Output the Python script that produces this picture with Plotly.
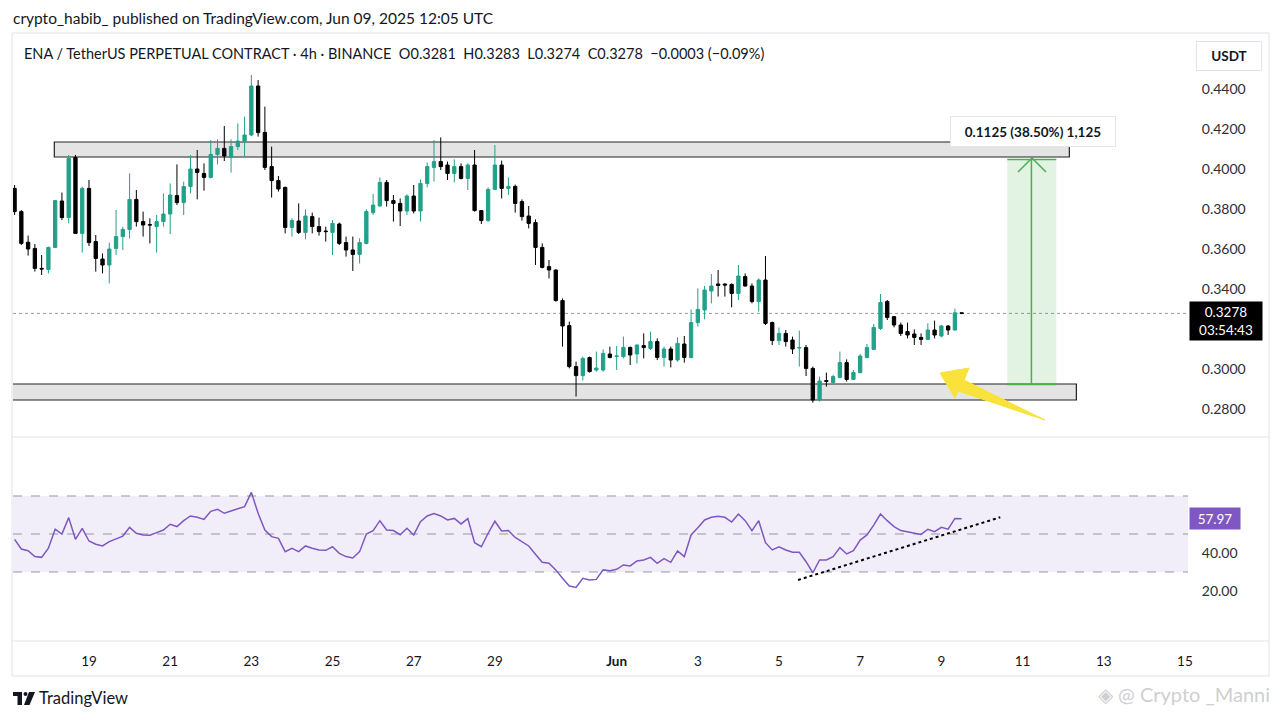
import pandas as pd
import plotly.graph_objects as go

# ENA / USDT perpetual, 4h candles (Binance), May 17 04:00 -> Jun 9 12:00 UTC
times = pd.date_range("2025-05-17 04:00", periods=141, freq="4h")

opens = [
    0.3903, 0.3787, 0.3634, 0.3603, 0.3503, 0.3498, 0.3608, 0.3840, 0.3757, 0.4058,
    0.3678, 0.3903, 0.3637, 0.3550, 0.3520, 0.3603, 0.3662, 0.3698, 0.3848, 0.3737,
    0.3722, 0.3712, 0.3737, 0.3775, 0.3867, 0.3832, 0.3912, 0.4000, 0.3978, 0.3958,
    0.4073, 0.4103, 0.4058, 0.4112, 0.4140, 0.4170, 0.4415, 0.4183, 0.4012, 0.3942,
    0.3908, 0.3708, 0.3740, 0.3683, 0.3762, 0.3712, 0.3690, 0.3683, 0.3725, 0.3632,
    0.3595, 0.3573, 0.3628, 0.3782, 0.3815, 0.3933, 0.3842, 0.3828, 0.3790, 0.3865,
    0.3790, 0.3928, 0.4008, 0.4037, 0.4020, 0.3978, 0.4012, 0.3953, 0.4020, 0.3792,
    0.3742, 0.3898, 0.4020, 0.3903, 0.3913, 0.3837, 0.3765, 0.3732, 0.3608, 0.3512,
    0.3495, 0.3342, 0.3217, 0.3012, 0.2967, 0.3057, 0.2995, 0.2995, 0.3075, 0.3063,
    0.3062, 0.3108, 0.3075, 0.3117, 0.3103, 0.3137, 0.3058, 0.3100, 0.3045, 0.3125,
    0.3058, 0.3232, 0.3295, 0.3390, 0.3425, 0.3425, 0.3423, 0.3378, 0.3462, 0.3415,
    0.3337, 0.3445, 0.3232, 0.3142, 0.3178, 0.3145, 0.3105, 0.3107, 0.3003, 0.2845,
    0.2942, 0.2932, 0.2958, 0.3032, 0.2948, 0.2982, 0.3058, 0.3098, 0.3203, 0.3337,
    0.3262, 0.3220, 0.3187, 0.3175, 0.3158, 0.3148, 0.3195, 0.3165, 0.3215, 0.3195,
    0.3281,
]
highs = [
    0.3920, 0.3795, 0.3667, 0.3625, 0.3570, 0.3612, 0.3845, 0.3882, 0.4070, 0.4070,
    0.3912, 0.3945, 0.3670, 0.3578, 0.3632, 0.3795, 0.3712, 0.3978, 0.3895, 0.3787,
    0.3753, 0.3770, 0.3878, 0.3928, 0.4023, 0.3937, 0.4070, 0.4095, 0.4028, 0.4145,
    0.4148, 0.4215, 0.4148, 0.4228, 0.4262, 0.4470, 0.4445, 0.4312, 0.4112, 0.3965,
    0.3912, 0.3753, 0.3828, 0.3798, 0.3782, 0.3757, 0.3712, 0.3745, 0.3732, 0.3662,
    0.3662, 0.3653, 0.3798, 0.3875, 0.3958, 0.3945, 0.3870, 0.3853, 0.3873, 0.3920,
    0.3948, 0.4032, 0.4145, 0.4158, 0.4037, 0.4048, 0.4028, 0.4028, 0.4095, 0.3795,
    0.3908, 0.4120, 0.4042, 0.3958, 0.3922, 0.3848, 0.3815, 0.3748, 0.3628, 0.3545,
    0.3498, 0.3353, 0.3237, 0.3037, 0.3062, 0.3062, 0.3087, 0.3098, 0.3112, 0.3115,
    0.3162, 0.3112, 0.3123, 0.3178, 0.3187, 0.3153, 0.3112, 0.3112, 0.3158, 0.3165,
    0.3298, 0.3403, 0.3415, 0.3475, 0.3495, 0.3428, 0.3428, 0.3520, 0.3478, 0.3428,
    0.3453, 0.3565, 0.3237, 0.3208, 0.3195, 0.3162, 0.3192, 0.3120, 0.3012, 0.2962,
    0.2982, 0.2970, 0.3087, 0.3048, 0.2995, 0.3075, 0.3125, 0.3225, 0.3375, 0.3345,
    0.3265, 0.3232, 0.3232, 0.3198, 0.3178, 0.3228, 0.3242, 0.3220, 0.3220, 0.3302,
    0.3283,
]
lows = [
    0.3770, 0.3620, 0.3567, 0.3487, 0.3470, 0.3478, 0.3605, 0.3745, 0.3728, 0.3678,
    0.3582, 0.3615, 0.3487, 0.3478, 0.3428, 0.3570, 0.3595, 0.3653, 0.3712, 0.3662,
    0.3628, 0.3582, 0.3712, 0.3675, 0.3820, 0.3770, 0.3878, 0.3848, 0.3892, 0.3953,
    0.4023, 0.4040, 0.3982, 0.4095, 0.4065, 0.4165, 0.4162, 0.3995, 0.3857, 0.3887,
    0.3678, 0.3662, 0.3675, 0.3648, 0.3678, 0.3667, 0.3637, 0.3570, 0.3620, 0.3562,
    0.3490, 0.3528, 0.3623, 0.3770, 0.3812, 0.3812, 0.3737, 0.3715, 0.3770, 0.3778,
    0.3737, 0.3908, 0.3937, 0.3995, 0.3945, 0.3933, 0.3948, 0.3895, 0.3787, 0.3725,
    0.3737, 0.3895, 0.3853, 0.3870, 0.3782, 0.3742, 0.3703, 0.3520, 0.3503, 0.3453,
    0.3337, 0.3112, 0.3003, 0.2862, 0.2942, 0.2982, 0.2987, 0.2987, 0.3053, 0.2995,
    0.3053, 0.3020, 0.3028, 0.3053, 0.3095, 0.3045, 0.3012, 0.3008, 0.3037, 0.3032,
    0.3053, 0.3212, 0.3248, 0.3328, 0.3362, 0.3362, 0.3308, 0.3345, 0.3412, 0.3328,
    0.3287, 0.3220, 0.3120, 0.3120, 0.3112, 0.3075, 0.3012, 0.2965, 0.2832, 0.2837,
    0.2912, 0.2928, 0.2953, 0.2937, 0.2945, 0.2978, 0.3053, 0.3095, 0.3195, 0.3245,
    0.3208, 0.3165, 0.3153, 0.3120, 0.3120, 0.3145, 0.3153, 0.3158, 0.3170, 0.3192,
    0.3274,
]
closes = [
    0.3787, 0.3628, 0.3600, 0.3503, 0.3500, 0.3608, 0.3842, 0.3757, 0.4053, 0.3678,
    0.3903, 0.3632, 0.3553, 0.3520, 0.3600, 0.3662, 0.3698, 0.3848, 0.3737, 0.3720,
    0.3720, 0.3737, 0.3775, 0.3870, 0.3832, 0.3912, 0.4000, 0.3983, 0.3958, 0.4073,
    0.4103, 0.4065, 0.4112, 0.4140, 0.4170, 0.4415, 0.4182, 0.4008, 0.3942, 0.3900,
    0.3708, 0.3742, 0.3683, 0.3765, 0.3712, 0.3687, 0.3687, 0.3728, 0.3628, 0.3595,
    0.3573, 0.3632, 0.3787, 0.3820, 0.3933, 0.3842, 0.3828, 0.3790, 0.3865, 0.3790,
    0.3928, 0.4012, 0.4037, 0.4012, 0.3978, 0.4012, 0.3953, 0.4020, 0.3792, 0.3742,
    0.3898, 0.4020, 0.3903, 0.3913, 0.3828, 0.3762, 0.3728, 0.3608, 0.3508, 0.3495,
    0.3342, 0.3215, 0.3012, 0.2967, 0.3053, 0.2987, 0.3005, 0.3078, 0.3058, 0.3065,
    0.3108, 0.3070, 0.3120, 0.3107, 0.3137, 0.3058, 0.3100, 0.3045, 0.3128, 0.3058,
    0.3232, 0.3298, 0.3395, 0.3415, 0.3418, 0.3420, 0.3378, 0.3465, 0.3415, 0.3337,
    0.3445, 0.3228, 0.3142, 0.3178, 0.3137, 0.3100, 0.3107, 0.3003, 0.2845, 0.2940,
    0.2938, 0.2962, 0.3032, 0.2948, 0.2982, 0.3065, 0.3107, 0.3208, 0.3332, 0.3258,
    0.3220, 0.3178, 0.3170, 0.3158, 0.3148, 0.3195, 0.3170, 0.3215, 0.3195, 0.3281,
    0.3278,
]
rsi = [
    47.2, 42.1, 41.2, 38.1, 37.7, 42.5, 52.5, 50.0, 58.6, 47.2,
    53.0, 46.3, 44.6, 43.7, 46.0, 47.5, 48.9, 53.5, 50.4, 49.5,
    49.3, 50.7, 52.1, 55.1, 53.9, 57.0, 59.5, 58.8, 57.7, 61.9,
    63.0, 60.9, 62.3, 63.3, 64.4, 71.9, 60.9, 52.1, 48.6, 47.7,
    40.7, 42.5, 40.7, 43.7, 42.5, 41.6, 41.4, 43.3, 39.8, 38.1,
    37.4, 40.7, 50.0, 51.8, 57.0, 52.1, 51.8, 49.6, 53.0, 49.5,
    56.5, 59.5, 60.7, 59.5, 57.4, 58.2, 55.3, 58.1, 45.4, 43.3,
    50.4, 56.7, 51.6, 51.8, 48.2, 46.0, 43.7, 39.3, 35.1, 34.6,
    31.1, 26.7, 22.6, 21.9, 26.7, 25.8, 26.1, 31.1, 30.7, 31.4,
    33.7, 33.2, 35.8, 36.3, 37.7, 34.6, 37.0, 35.1, 41.1, 38.1,
    49.5, 53.3, 57.4, 58.8, 59.3, 58.8, 56.3, 60.5, 57.0, 51.8,
    57.0, 45.4, 41.6, 43.3, 41.6, 40.4, 40.4, 35.4, 29.6, 36.3,
    36.3, 38.1, 42.8, 39.5, 41.2, 46.8, 49.5, 54.7, 60.5, 57.0,
    53.9, 51.8, 51.2, 50.4, 49.8, 52.5, 51.2, 53.5, 52.5, 58.2,
    57.97,
]

last_price = 0.3278
price_ticks = [0.44, 0.42, 0.40, 0.38, 0.36, 0.34, 0.30, 0.28]
rsi_ticks = [20, 40]
date_ticks = ["2025-05-19", "2025-05-21", "2025-05-23", "2025-05-25", "2025-05-27",
              "2025-05-29", "2025-06-01", "2025-06-03", "2025-06-05", "2025-06-07",
              "2025-06-09", "2025-06-11", "2025-06-13", "2025-06-15"]
date_labels = ["19", "21", "23", "25", "27", "29", "<b>Jun</b>", "3", "5", "7",
               "9", "11", "13", "15"]

# drawings on the chart
resistance_zone = ("2025-05-18 03:30", "2025-06-12 03:40", 0.4060, 0.4135)
support_zone = ("2025-05-17 00:00", "2025-06-12 07:50", 0.2845, 0.2925)
measure = ("2025-06-10 15:00", "2025-06-11 20:00", 0.2922, 0.4047)
measure_mid = "2025-06-11 05:15"
rsi_trend = ("2025-06-05 11:15", 25.8, "2025-06-10 10:50", 58.8)

x_range = ["2025-05-17 03:04", "2025-06-15 01:50"]
price_range = [0.266, 0.468]
rsi_range = [-6.32, 101.05]

FONT = "Lato"
TEXT = "#131722"
UP = "#22a08a"
DOWN = "#000000"

# the page puts the figure 8px in from the window corner, so screen pixels
# are shifted by OFF before being turned into paper coordinates
OFF = 8
L, R, T, B = 13, 1188, 33, 641   # plot area on screen


def px(x):
    return (x - L) / (R - L)


def py(y):
    return (B - y) / (B - T)


split = py(437)

fig = go.Figure()

fig.add_trace(go.Candlestick(
    x=times, open=opens, high=highs, low=lows, close=closes,
    increasing=dict(line=dict(color=UP, width=1), fillcolor=UP),
    decreasing=dict(line=dict(color=DOWN, width=1), fillcolor=DOWN),
    xaxis="x", yaxis="y", showlegend=False, hoverinfo="skip",
))

fig.add_trace(go.Scatter(
    x=times, y=rsi, mode="lines",
    line=dict(color="#7e57c2", width=1.5),
    xaxis="x2", yaxis="y2", showlegend=False, hoverinfo="skip",
))

shapes = []

# chart frame and pane separators
shapes.append(dict(type="rect", xref="paper", yref="paper",
                   x0=px(12), x1=px(1269), y0=py(676), y1=py(33),
                   line=dict(color="#e0e3eb", width=1), layer="below"))
for yy in (437, 641):
    shapes.append(dict(type="line", xref="paper", yref="paper",
                       x0=px(12), x1=px(1269), y0=py(yy), y1=py(yy),
                       line=dict(color="#e0e3eb", width=1)))

# RSI band and levels
shapes.append(dict(type="rect", xref="paper", yref="y2", x0=0, x1=1, y0=30, y1=70,
                   fillcolor="rgba(126,87,194,0.10)", line=dict(width=0), layer="below"))
for lvl in (70, 50, 30):
    shapes.append(dict(type="line", xref="paper", yref="y2", x0=0, x1=1, y0=lvl, y1=lvl,
                       line=dict(color="#9598a1", width=1, dash="dash"), layer="below"))

# current price dotted line
shapes.append(dict(type="line", xref="paper", yref="y", x0=0, x1=1,
                   y0=last_price, y1=last_price,
                   line=dict(color="#9598a1", width=1, dash="dot"), layer="below"))

# supply / demand zones
for x0, x1, y0, y1 in (resistance_zone, support_zone):
    shapes.append(dict(type="rect", xref="x", yref="y", x0=x0, x1=x1, y0=y0, y1=y1,
                       fillcolor="rgba(205,205,205,0.55)",
                       line=dict(color="#222222", width=1.2), layer="below"))

# price range measure
mx0, mx1, my0, my1 = measure
shapes.append(dict(type="rect", xref="x", yref="y", x0=mx0, x1=mx1, y0=my0, y1=my1,
                   fillcolor="rgba(76,175,80,0.16)", line=dict(width=0), layer="below"))
for yy in (my0, my1):
    shapes.append(dict(type="line", xref="x", yref="y", x0=mx0, x1=mx1, y0=yy, y1=yy,
                       line=dict(color="#4caf50", width=1.5)))
shapes.append(dict(type="line", xref="x", yref="y", x0=measure_mid, x1=measure_mid,
                   y0=my0, y1=my1, line=dict(color="#4caf50", width=1.5)))
# arrow head of the measure
shapes.append(dict(type="path", xref="paper", yref="paper",
                   path=f"M{px(1018)},{py(172)} L{px(1032)},{py(158)} L{px(1046)},{py(172)}",
                   line=dict(color="#4caf50", width=1.5)))

# RSI dotted trendline
tx0, ty0, tx1, ty1 = rsi_trend
shapes.append(dict(type="line", xref="x2", yref="y2", x0=tx0, y0=ty0, x1=tx1, y1=ty1,
                   line=dict(color="#000000", width=2, dash="dot")))

# yellow hand-drawn arrow
arrow_pts = [(940, 373), (969, 368), (964, 380), (1045, 420), (958, 391), (955, 398)]
arrow_path = "M" + " L".join(f"{px(a)},{py(b)}" for a, b in arrow_pts) + " Z"
shapes.append(dict(type="path", xref="paper", yref="paper", path=arrow_path,
                   fillcolor="#f8e23b", line=dict(color="#f8e23b", width=1)))

# TradingView logo
shapes.append(dict(type="rect", xref="paper", yref="paper",
                   x0=px(13), x1=px(22), y0=py(696), y1=py(692),
                   fillcolor=TEXT, line=dict(width=0)))
shapes.append(dict(type="rect", xref="paper", yref="paper",
                   x0=px(17.5), x1=px(22), y0=py(705), y1=py(692),
                   fillcolor=TEXT, line=dict(width=0)))
shapes.append(dict(type="circle", xref="paper", yref="paper",
                   x0=px(23.5), x1=px(27.5), y0=py(696), y1=py(692),
                   fillcolor=TEXT, line=dict(width=0)))
shapes.append(dict(type="path", xref="paper", yref="paper",
                   path=f"M{px(29)},{py(692)} L{px(35)},{py(692)} L{px(29.5)},{py(705)} L{px(24)},{py(705)} Z",
                   fillcolor=TEXT, line=dict(width=0)))

annotations = [
    dict(x=px(11), y=py(18), text="crypto_habib_ published on TradingView.com, Jun 09, 2025 12:05 UTC",
         font=dict(size=15.5, color=TEXT)),
    dict(x=px(22), y=py(54),
         text="ENA / TetherUS PERPETUAL CONTRACT · 4h · BINANCE  O0.3281  H0.3283  L0.3274  C0.3278  −0.0003 (−0.09%)",
         font=dict(size=14.5, color=TEXT)),
    dict(x=px(37), y=py(698), text="TradingView", font=dict(size=16.5, color=TEXT)),
    dict(x=px(1272), y=py(694), xanchor="right", text="◈ @ Crypto _Manni",
         font=dict(size=20, color="#cfcfcf")),
    dict(x=px(1229), y=py(56), xanchor="center", text="<b>USDT</b>",
         font=dict(size=13.5, color=TEXT), bgcolor="white", bordercolor="#e0e3eb",
         borderwidth=1, borderpad=2, width=60, height=24),
    dict(x=px(1226), y=py(321), xanchor="center", text="0.3278<br>03:54:43",
         font=dict(size=13.5, color="white"), bgcolor="#000000", borderpad=2,
         width=68, height=34),
    dict(x=px(1215), y=py(518.5), xanchor="center", text="57.97",
         font=dict(size=13.5, color="white"), bgcolor="#7e57c2", borderpad=2,
         width=46, height=17),
    dict(x=px(1033), y=py(131.5), xanchor="center", text="<b>0.1125 (38.50%) 1,125</b>",
         font=dict(size=13.5, color=TEXT), bgcolor="white", bordercolor="#e6e6e6",
         borderwidth=1, borderpad=3, width=158, height=23),
]
for a in annotations:
    a.setdefault("xref", "paper")
    a.setdefault("yref", "paper")
    a.setdefault("xanchor", "left")
    a.setdefault("yanchor", "middle")
    a.setdefault("showarrow", False)

axis_common = dict(showgrid=False, zeroline=False, showline=False)

fig.update_layout(
    width=1280, height=720,
    margin=dict(l=L - OFF, r=1280 - (R - OFF), t=T - OFF, b=720 - (B - OFF)),
    paper_bgcolor="white", plot_bgcolor="white",
    font=dict(family=FONT, color=TEXT),
    showlegend=False,
    hovermode=False,
    shapes=shapes,
    annotations=annotations,
    xaxis=dict(domain=[0, 1], anchor="y", type="date", range=x_range,
               showticklabels=False, rangeslider=dict(visible=False), **axis_common),
    yaxis=dict(domain=[split, 1], anchor="x", side="right", range=price_range,
               tickvals=price_ticks, ticktext=[f"{v:.4f}" for v in price_ticks],
               ticks="outside", ticklen=10, tickcolor="rgba(0,0,0,0)",
               tickfont=dict(size=14, color="#2a2e39"), **axis_common),
    xaxis2=dict(domain=[0, 1], anchor="y2", type="date", range=x_range,
                tickvals=date_ticks, ticktext=date_labels,
                ticks="outside", ticklen=8, tickcolor="rgba(0,0,0,0)",
                tickfont=dict(size=13.5, color=TEXT), **axis_common),
    yaxis2=dict(domain=[0, split], anchor="x2", side="right", range=rsi_range,
                tickvals=rsi_ticks, ticktext=[f"{v:.2f}" for v in rsi_ticks],
                ticks="outside", ticklen=10, tickcolor="rgba(0,0,0,0)",
                tickfont=dict(size=14, color="#2a2e39"), **axis_common),
)

fig.write_html("out.html")
